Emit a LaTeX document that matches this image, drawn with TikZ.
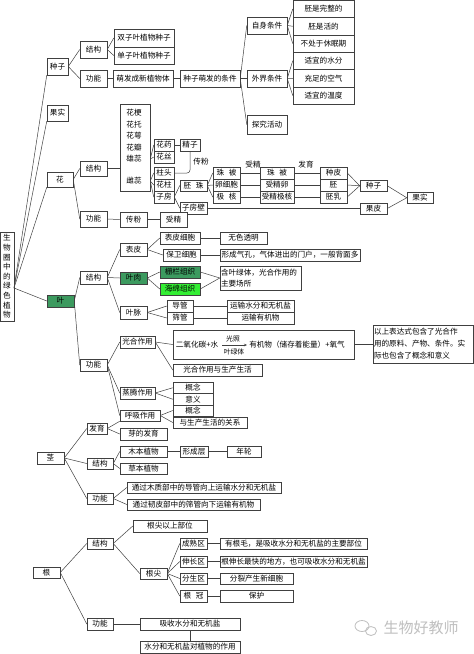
\documentclass[tikz,border=0pt]{standalone}
\usepackage{fontspec}
\setmainfont{Noto Sans CJK SC}
\usetikzlibrary{arrows.meta}
\definecolor{dg}{HTML}{3C9A5F}
\definecolor{bgr}{HTML}{33EE33}
\definecolor{lc}{HTML}{404040}
\tikzset{
 box/.style={draw=lc, line width=0.5pt, inner sep=0.3pt, font=\fontsize{7.6}{8}\selectfont, fill=white},
 ln/.style={draw=lc, line width=0.5pt},
 lbl/.style={inner sep=0pt, font=\fontsize{7.6}{8}\selectfont}}
\newcommand\Bx[7][]{%
 \pgfmathsetmacro\cx{(#3+#5)/2}\pgfmathsetmacro\cy{(#4+#6)/2}%
 \pgfmathsetmacro\bw{#5-#3}\pgfmathsetmacro\bh{#6-#4}%
 \node[box,minimum width=\bw pt,minimum height=\bh pt,#1] (#2) at (\cx,\cy) {#7};}
\begin{document}
\begin{tikzpicture}[x=1pt,y=-1pt]
\path[use as bounding box] (0,0) rectangle (474,654);
\fill[white] (0,0) rectangle (474,654);
% root
\node[box, align=center, font=\fontsize{7.6}{9.6}\selectfont, inner sep=0pt, minimum width=14pt, minimum height=89pt] (root) at (7,276.5) {生\\物\\圈\\中\\的\\绿\\色\\植\\物};
\coordinate (hub) at (14,288);
% seed
\Bx{zz}{47}{58}{68}{75}{种子}
\Bx{zzjg}{80}{41}{107}{58}{结构}
\Bx{sz1}{114}{29}{174}{47}{双子叶植物种子}
\Bx{sz2}{114}{47}{174}{64}{单子叶植物种子}
\Bx{zzgn}{80}{70}{107}{87}{功能}
\Bx{mf}{113}{70}{173}{87}{萌发成新植物体}
\Bx{tj}{180}{70}{240}{87}{种子萌发的条件}
\Bx{zs}{247}{17}{287}{34}{自身条件}
\Bx{wj}{247}{70}{287}{87}{外界条件}
\Bx{tjhd}{247}{115}{287}{134}{探究活动}
\Bx{c1}{293}{0.5}{354}{17.5}{胚是完整的}
\Bx{c2}{293}{17.5}{354}{35}{胚是活的}
\Bx{c3}{293}{35}{354}{52}{不处于休眠期}
\Bx{c4}{293}{52}{354}{69.5}{适宜的水分}
\Bx{c5}{293}{69.5}{354}{87}{充足的空气}
\Bx{c6}{293}{87}{354}{104}{适宜的温度}
% fruit
\Bx{gs}{47}{105}{68}{121}{果实}
% flower
\Bx{hua}{47}{172}{73}{187}{花}
\Bx{hjg}{80}{161}{107}{176}{结构}
\Bx{hbox}{120}{104}{150}{191}{}
\node[lbl] (hg) at (134,113) {花梗};
\node[lbl] (ht) at (134,124.5) {花托};
\node[lbl] (he) at (134,136) {花萼};
\node[lbl] (hb) at (134,147.5) {花瓣};
\node[lbl] (xr) at (134,159) {雄蕊};
\node[lbl] (cr) at (134,181) {雌蕊};
\Bx{hy}{154}{139}{174}{151}{花药}
\Bx{hs}{154}{151}{174}{163}{花丝}
\Bx{jz}{180}{139}{200}{151}{精子}
\node[lbl] (cf) at (201,162) {传粉};
\Bx{zt}{154}{167}{174}{179}{柱头}
\Bx{hz}{154}{179}{174}{191}{花柱}
\Bx{zf}{154}{191}{174}{203}{子房}
\Bx{pz}{180}{180}{207}{191}{胚\hspace{0.6em}珠}
\Bx{zfb}{180}{202}{207}{214}{子房壁}
\Bx{a1}{213}{167}{240}{179}{珠\hspace{0.6em}被}
\Bx{a2}{213}{179}{240}{191}{卵细胞}
\Bx{a3}{213}{191}{240}{203}{极\hspace{0.6em}核}
\node[lbl] (sjl) at (253,165) {受精};
\Bx{b1}{260}{167}{294}{179}{珠\hspace{0.6em}被}
\Bx{b2}{260}{179}{294}{191}{受精卵}
\Bx{b3}{260}{191}{294}{203}{受精极核}
\node[lbl] (fyl) at (306,165) {发育};
\Bx{d1}{320}{167}{347}{179}{种皮}
\Bx{d2}{320}{179}{347}{191}{胚}
\Bx{d3}{320}{191}{347}{203}{胚乳}
\Bx{zz2}{360}{180}{387}{191.5}{种子}
\Bx{gp}{360}{203}{387}{214}{果皮}
\Bx{gs2}{407}{192}{433}{203.5}{果实}
\Bx{hfn}{80}{211}{107}{227}{功能}
\Bx{cf2}{120}{212}{147}{227}{传粉}
\Bx{sj2}{160}{212}{187}{227}{受精}
% leaf
\Bx[fill=dg]{ye}{47}{295}{74}{307}{叶}
\Bx{yjg}{80}{271}{107}{284}{结构}
\Bx{bp}{120}{243}{147}{256}{表皮}
\Bx[fill=dg]{yr}{120}{272}{147}{284}{叶肉}
\Bx{ym}{120}{306}{147}{319}{叶脉}
\Bx{bpxb}{160}{232}{200}{244}{表皮细胞}
\Bx{bwxb}{163}{249}{200}{261}{保卫细胞}
\Bx[fill=dg]{zl}{160}{266}{200}{278}{栅栏组织}
\Bx[fill=bgr]{hm}{160}{283}{200}{295}{海绵组织}
\Bx{dg1}{167}{300}{193}{312}{导管}
\Bx{sg1}{167}{312}{193}{324}{筛管}
\Bx{wsm}{220}{232}{267}{244}{无色透明}
\Bx{xcqk}{220}{249}{360}{261}{形成气孔，气体进出的门户，一般背面多}
\Bx[align=left, text width=79pt, font=\fontsize{7.6}{11}\selectfont]{hyl}{220}{266}{301}{290}{含叶绿体，光合作用的\\主要场所}
\Bx{ys1}{227}{300}{294}{312}{运输水分和无机盐}
\Bx{ys2}{227}{312}{294}{324}{运输有机物}
\Bx{yfn}{80}{359}{107}{371}{功能}
\Bx{gh}{120}{336}{155}{348}{光合作用}
\Bx{eq}{173}{330}{354}{359}{}
\node[lbl] (eqL) at (197,345) {二氧化碳+水};
\node[lbl, font=\fontsize{6.8}{7}\selectfont] (gz) at (233,339) {光照};
\node[lbl, font=\fontsize{6.8}{7}\selectfont] (ylt) at (234,351.5) {叶绿体};
\coordinate (arA) at (222,345);
\coordinate (arB) at (247,345);
\node[lbl] (eqR) at (297,345) {有机物（储存着能量）+氧气};
\Bx[align=left, text width=98pt, font=\fontsize{7.6}{12}\selectfont]{sm}{373}{325}{473}{363}{以上表达式包含了光合作\\用的原料、产物、条件。实\\际也包含了概念和意义}
\Bx{ghsc}{173}{364}{262}{376}{光合作用与生产生活}
\Bx{zt2}{120}{387}{155}{399}{蒸腾作用}
\Bx{gn1}{173}{382}{213}{393.5}{概念}
\Bx{yy1}{173}{393.5}{213}{405}{意义}
\Bx{gn2}{173}{405}{213}{416}{概念}
\Bx{hx}{120}{410}{160}{421}{呼吸作用}
\Bx{scsh}{173}{417}{247}{428}{与生产生活的关系}
% stem
\Bx{jing}{37}{452}{64}{464}{茎}
\Bx{jfy}{87}{423}{107}{434}{发育}
\Bx{yfy}{120}{428}{167}{440}{芽的发育}
\Bx{jjg}{87}{458}{113}{469}{结构}
\Bx{mb}{120}{446}{167}{457}{木本植物}
\Bx{cb}{120}{463}{167}{474}{草本植物}
\Bx{xcc}{180}{446}{208}{457}{形成层}
\Bx{nl}{227}{446}{261}{457}{年轮}
\Bx{jfn}{87}{493}{113}{504}{功能}
\Bx{t1}{127}{482}{281}{493}{通过木质部中的导管向上运输水分和无机盐}
\Bx{t2}{127}{499}{260}{510}{通过韧皮部中的筛管向下运输有机物}
% root (gen)
\Bx{gen}{33}{567}{60}{578}{根}
\Bx{gjg}{87}{538}{113}{549}{结构}
\Bx{gjys}{133}{520}{207}{532}{根尖以上部位}
\Bx{gj}{140}{568}{167}{579}{根尖}
\Bx{q1}{180}{538}{207}{549}{成熟区}
\Bx{q2}{180}{556}{207}{567}{伸长区}
\Bx{q3}{180}{573}{207}{584}{分生区}
\Bx{q4}{180}{590}{207}{602}{根\hspace{0.6em}冠}
\Bx{r1}{220}{538}{367}{549}{有根毛，是吸收水分和无机盐的主要部位}
\Bx{r2}{220}{556}{367}{567}{根伸长最快的地方，也可吸收水分和无机盐}
\Bx{r3}{220}{573}{293}{584}{分裂产生新细胞}
\Bx{r4}{220}{590}{293}{602}{保护}
\Bx{gfn}{87}{618}{113}{630}{功能}
\Bx{xs}{140}{618}{240}{630}{吸收水分和无机盐}
\Bx{sf}{140}{641}{240}{653}{水分和无机盐对植物的作用}
% watermark
\node[inner sep=0pt, text=black!25, font=\fontsize{15}{15}\selectfont] (wm) at (421,628) {生物好教师};
\draw[black!25, line width=0.8pt] (362,626) ellipse (7 and 5.5);
\draw[black!25, line width=0.8pt] (371,631) ellipse (5.5 and 4.5);
% ---------- connectors ----------
\draw[ln] (hub) -- (zz.south west);
\draw[ln] (hub) -- (gs.south west);
\draw[ln] (hub) -- (hua.south west);
\draw[ln] (hub) -- (ye.west);
\draw[ln] (zz.east) -- (zzjg.west);
\draw[ln] (zz.east) -- (zzgn.west);
\draw[ln] (zzjg.east) -- (sz1.west);
\draw[ln] (zzjg.east) -- (sz2.west);
\draw[ln] (zzgn) -- (mf);
\draw[ln] (mf) -- (tj);
\draw[ln] (tj.east) -- (zs.west);
\draw[ln] (tj.east) -- (wj.west);
\draw[ln] (tj.east) -- (tjhd.west);
\foreach \c in {c1,c2,c3}{\draw[ln] (zs.east) -- (\c.west);}
\foreach \c in {c4,c5,c6}{\draw[ln] (wj.east) -- (\c.west);}
% flower
\draw[ln] (hua.east) -- (hjg.west);
\draw[ln] (hua.east) -- (hfn.west);
\draw[ln] (hjg.east) -- (hjg.east -| hbox.west);
\draw[ln] (hbox.east |- xr) -- (hy.west);
\draw[ln] (hbox.east |- xr) -- (hs.west);
\draw[ln] (hbox.east |- cr) -- (zt.west);
\draw[ln] (hbox.east |- cr) -- (hz.west);
\draw[ln] (hbox.east |- cr) -- (zf.west);
\draw[ln] (hy) -- (jz);
\draw[ln, rounded corners=3pt] (jz.south) -- (jz.south |- zt.east) -- (zt.east);
\draw[ln] (zf.east) -- (pz.west);
\draw[ln] (zf.east) -- (zfb.west);
\foreach \c in {a1,a2,a3}{\draw[ln] (pz.east) -- (\c.west);}
\draw[ln] (a1) -- (b1); \draw[ln] (a2) -- (b2); \draw[ln] (a3) -- (b3);
\draw[ln] (b1) -- (d1); \draw[ln] (b2) -- (d2); \draw[ln] (b3) -- (d3);
\foreach \c in {d1,d2,d3}{\draw[ln] (\c.east) -- (zz2.west);}
\draw[ln] (zfb.east) -- (zfb.east -| gp.west);
\draw[ln] (zz2.east) -- (gs2.west);
\draw[ln] (gp.east) -- (gs2.west);
\draw[ln] (hfn) -- (cf2);
\draw[ln] (cf2) -- (sj2);
% leaf
\draw[ln] (ye.east) -- (yjg.west);
\draw[ln] (ye.east) -- (yfn.west);
\draw[ln] (yjg.east) -- (bp.west);
\draw[ln] (yjg.east) -- (yr.west);
\draw[ln] (yjg.east) -- (ym.west);
\draw[ln] (bp.east) -- (bpxb.west);
\draw[ln] (bp.east) -- (bwxb.west);
\draw[ln] (yr.east) -- (zl.west);
\draw[ln] (yr.east) -- (hm.west);
\draw[ln] (ym.east) -- (dg1.west);
\draw[ln] (ym.east) -- (sg1.west);
\draw[ln] (bpxb) -- (wsm);
\draw[ln] (bwxb) -- (xcqk);
\draw[ln] (zl.east) -- (hyl.west);
\draw[ln] (hm.east) -- (hyl.west);
\draw[ln] (dg1) -- (ys1);
\draw[ln] (sg1) -- (ys2);
\draw[ln] (yfn.east) -- (gh.west);
\draw[ln] (yfn.east) -- (zt2.west);
\draw[ln] (yfn.east) -- (hx.west);
\draw[ln] (gh.east) -- (eq.west);
\draw[ln] (gh.east) -- (ghsc.west);
\draw[ln, -{Stealth[length=3pt,width=2.5pt]}] (arA) -- (arB);
\draw[ln] (eq.east) -- (eq.east -| sm.west);
\draw[ln] (zt2.east) -- (gn1.west);
\draw[ln] (zt2.east) -- (yy1.west);
\draw[ln] (hx.east) -- (gn2.west);
\draw[ln] (hx.east) -- (scsh.west);
% stem
\draw[ln] (jing.east) -- (jfy.west);
\draw[ln] (jing.east) -- (jjg.west);
\draw[ln] (jing.east) -- (jfn.west);
\draw[ln] (jfy.east) -- (hx.south west);
\draw[ln] (jfy.east) -- (yfy.west);
\draw[ln] (jjg.east) -- (mb.west);
\draw[ln] (jjg.east) -- (cb.west);
\draw[ln] (mb) -- (xcc);
\draw[ln] (xcc) -- (nl);
\draw[ln] (jfn.east) -- (t1.west);
\draw[ln] (jfn.east) -- (t2.west);
% root
\draw[ln] (gen.east) -- (gjg.west);
\draw[ln] (gen.east) -- (gfn.west);
\draw[ln] (gjg.east) -- (gjys.west);
\draw[ln] (gjg.east) -- (gj.west);
\foreach \c in {q1,q2,q3,q4}{\draw[ln] (gj.east) -- (\c.west);}
\draw[ln] (q1) -- (r1); \draw[ln] (q2) -- (r2); \draw[ln] (q3) -- (r3); \draw[ln] (q4) -- (r4);
\draw[ln] (gfn) -- (xs);
\draw[ln] (xs) -- (sf);
\end{tikzpicture}
\end{document}
